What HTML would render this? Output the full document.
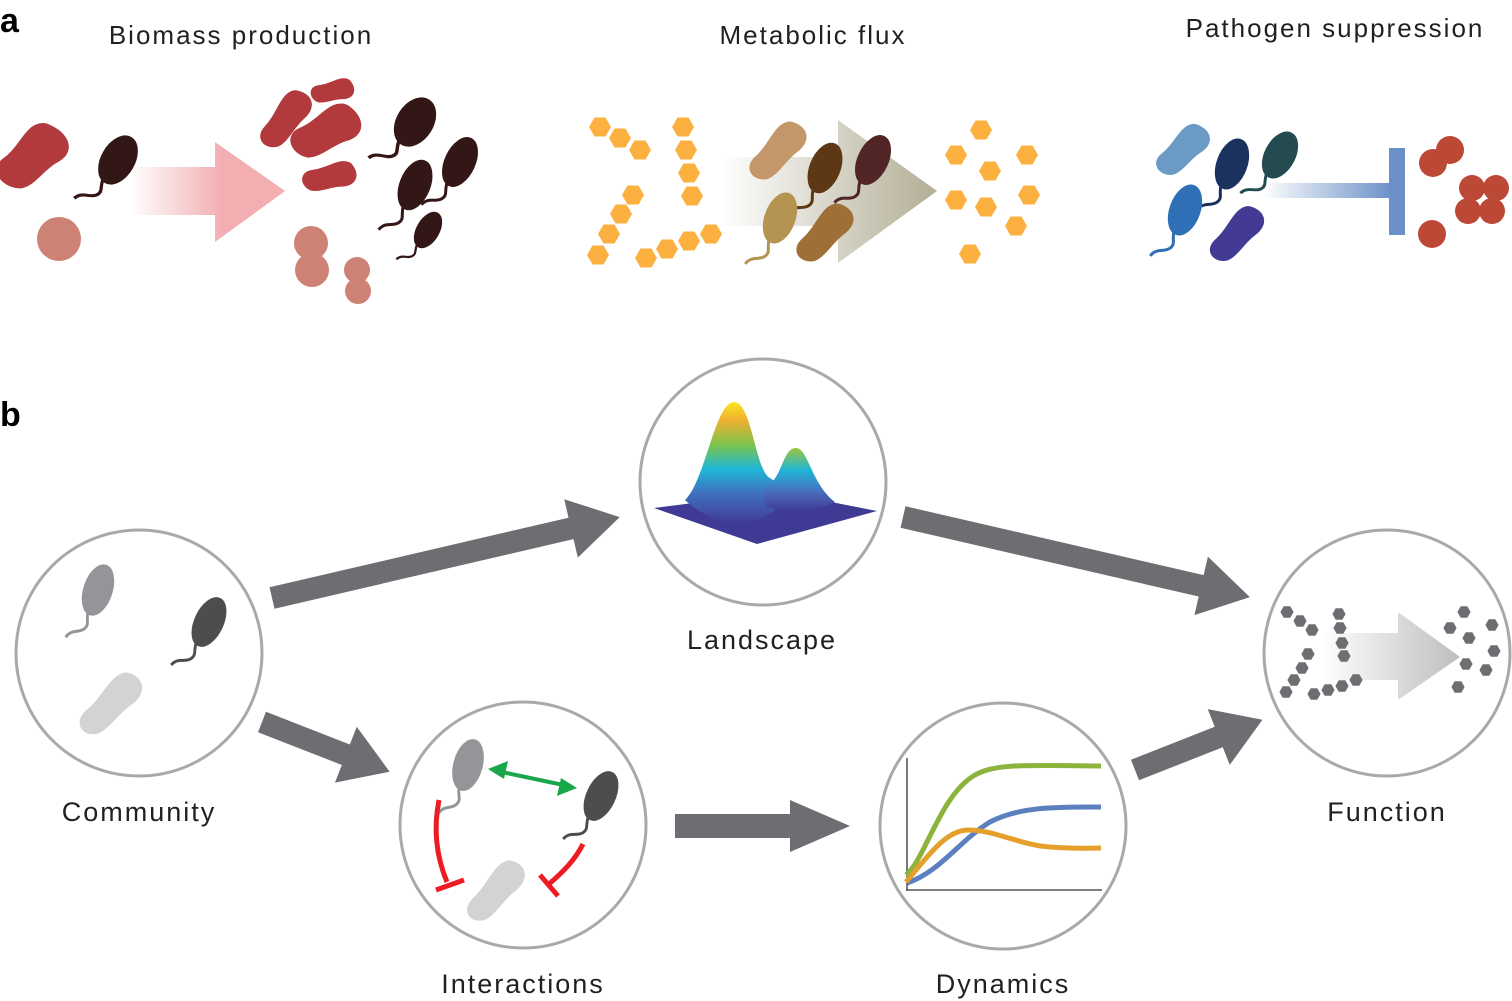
<!DOCTYPE html>
<html><head><meta charset="utf-8"><style>
html,body{margin:0;padding:0;background:#fff;}
svg{display:block;font-family:"Liberation Sans",sans-serif;}
</style></head><body>
<svg width="1512" height="1001" viewBox="0 0 1512 1001" xmlns="http://www.w3.org/2000/svg">
<defs>
<linearGradient id="gPink" x1="0" x2="1" y1="0" y2="0"><stop offset="0" stop-color="#f2aeb1" stop-opacity="0"/><stop offset="0.6" stop-color="#f2aeb1"/><stop offset="1" stop-color="#f2aeb1"/></linearGradient>
<linearGradient id="gFlux" gradientUnits="userSpaceOnUse" x1="720" x2="937" y1="0" y2="0"><stop offset="0" stop-color="#b3ae96" stop-opacity="0"/><stop offset="1" stop-color="#b3ae96"/></linearGradient>
<linearGradient id="gBlue" x1="0" x2="1"><stop offset="0" stop-color="#6b90c8" stop-opacity="0"/><stop offset="1" stop-color="#6b90c8"/></linearGradient>
<linearGradient id="gGray" gradientUnits="userSpaceOnUse" x1="1322" x2="1460" y1="0" y2="0"><stop offset="0" stop-color="#bcbec0" stop-opacity="0"/><stop offset="1" stop-color="#bcbec0"/></linearGradient>
<linearGradient id="gPeak" x1="0" x2="0" y1="0" y2="1"><stop offset="0" stop-color="#f8e620"/><stop offset="0.15" stop-color="#f0b030"/><stop offset="0.35" stop-color="#7cc44a"/><stop offset="0.55" stop-color="#1fb6d6"/><stop offset="0.75" stop-color="#4070c0"/><stop offset="1" stop-color="#3f3a93"/></linearGradient>
<linearGradient id="gPeak2" x1="0" x2="0" y1="0" y2="1"><stop offset="0" stop-color="#9cc63c"/><stop offset="0.35" stop-color="#1fb6d6"/><stop offset="0.7" stop-color="#4a6cbc"/><stop offset="1" stop-color="#3f3a93"/></linearGradient>
<g id="fc"><ellipse cx="0" cy="0" rx="15" ry="26"/><path d="M-3,24 C-2,33 3,35 -1,41 C-5,47 -14,45 -17,55" stroke-width="3" fill="none"/></g>
<path id="rod" d="M-6,-34 C10,-40 20,-28 14,-10 C10,4 12,20 6,30 C-4,42 -20,36 -16,18 C-13,4 -16,-10 -14,-22 C-12,-30 -9,-33 -6,-34 Z"/>
<polygon id="hex" points="11,0 5.5,9.5 -5.5,9.5 -11,0 -5.5,-9.5 5.5,-9.5"/>
</defs>

<text x="0" y="32" font-size="34" font-weight="bold">a</text>
<g font-size="26" text-anchor="middle" fill="#231f20" letter-spacing="2">
<text x="241" y="44">Biomass production</text>
<text x="813" y="44">Metabolic flux</text>
<text x="1335" y="37">Pathogen suppression</text>
</g>

<!-- Biomass -->
<path d="M130,167 H215 V142 L285,191 L215,242 V215 H130 Z" fill="url(#gPink)"/>
<g fill="#b23a3c">
<use href="#rod" transform="translate(34,158) rotate(38) scale(1.5,1.05)"/>
<use href="#rod" transform="translate(287,120) rotate(30) scale(1.0,0.9)"/>
<use href="#rod" transform="translate(333,92) rotate(70) scale(0.7,0.6)"/>
<use href="#rod" transform="translate(327,133) rotate(52) scale(1.3,1.0)"/>
<use href="#rod" transform="translate(330,178) rotate(70) scale(0.85,0.75)"/>
</g>
<g fill="#331616" stroke="#331616">
<use href="#fc" transform="translate(118,160) rotate(30) scale(1.1,1)"/>
<use href="#fc" transform="translate(415,122) rotate(32) scale(1.2,1)"/>
<use href="#fc" transform="translate(460,162) rotate(25) scale(1,1)"/>
<use href="#fc" transform="translate(415,185) rotate(22) scale(1,1)"/>
<use href="#fc" transform="translate(428,230) rotate(30) scale(0.75,0.75)"/>
</g>
<g fill="#cd8275">
<circle cx="59" cy="239" r="22"/>
<circle cx="311" cy="243" r="17"/><circle cx="312" cy="270" r="17"/>
<circle cx="357" cy="270" r="13"/><circle cx="358" cy="291" r="13"/>
</g>

<!-- Metabolic flux -->
<path d="M720,157 H838 V120 L937,191 L838,263 V226 H720 Z" fill="url(#gFlux)"/>
<g fill="#fbb040">
<use href="#hex" x="600" y="127"/><use href="#hex" x="620" y="138"/><use href="#hex" x="640" y="150"/>
<use href="#hex" x="683" y="127"/><use href="#hex" x="686" y="150"/><use href="#hex" x="689" y="173"/><use href="#hex" x="692" y="196"/>
<use href="#hex" x="633" y="195"/><use href="#hex" x="621" y="214"/><use href="#hex" x="609" y="234"/><use href="#hex" x="598" y="255"/>
<use href="#hex" x="646" y="258"/><use href="#hex" x="667" y="249"/><use href="#hex" x="689" y="241"/><use href="#hex" x="711" y="234"/>
<use href="#hex" x="981" y="130"/><use href="#hex" x="956" y="155"/><use href="#hex" x="1027" y="155"/><use href="#hex" x="990" y="171"/><use href="#hex" x="1029" y="195"/><use href="#hex" x="956" y="200"/><use href="#hex" x="986" y="207"/><use href="#hex" x="1016" y="226"/><use href="#hex" x="970" y="254"/>
</g>
<use href="#rod" fill="#c4976b" transform="translate(779,152) rotate(35) scale(1.05,0.95)"/>
<use href="#rod" fill="#9e7037" transform="translate(826,234) rotate(35) scale(1.05,0.95)"/>
<g fill="#5e3815" stroke="#5e3815"><use href="#fc" transform="translate(825,168) rotate(22) scale(1,1)"/></g>
<g fill="#512425" stroke="#512425"><use href="#fc" transform="translate(873,160) rotate(25) scale(1,1)"/></g>
<g fill="#b59350" stroke="#b59350"><use href="#fc" transform="translate(780,218) rotate(20) scale(1,1)"/></g>

<!-- Pathogen -->
<rect x="1262" y="183" width="130" height="15" fill="url(#gBlue)"/>
<rect x="1389" y="148" width="16" height="87" fill="#6b90c8"/>
<use href="#rod" fill="#6b9ac4" transform="translate(1184,151) rotate(38) scale(1.0,0.85)"/>
<use href="#rod" fill="#433a93" transform="translate(1238,235) rotate(35) scale(1.0,0.9)"/>
<g fill="#1c325e" stroke="#1c325e"><use href="#fc" transform="translate(1232,164) rotate(20) scale(1,1)"/></g>
<g fill="#244b50" stroke="#244b50"><use href="#fc" transform="translate(1280,155) rotate(28) scale(1,0.95)"/></g>
<g fill="#2e6fb5" stroke="#2e6fb5"><use href="#fc" transform="translate(1185,210) rotate(20) scale(1,1)"/></g>
<g fill="#bc4836">
<circle cx="1433" cy="163" r="14"/><circle cx="1450" cy="150" r="14"/>
<circle cx="1472" cy="188" r="13"/><circle cx="1496" cy="188" r="13"/><circle cx="1468" cy="211" r="13"/><circle cx="1492" cy="211" r="13"/>
<circle cx="1432" cy="234" r="14"/>
</g>

<!-- panel b -->
<text x="0" y="426" font-size="34" font-weight="bold">b</text>
<g fill="none" stroke="#a7a9ac" stroke-width="3">
<circle cx="139" cy="653" r="123"/>
<circle cx="763" cy="482" r="123"/>
<circle cx="523" cy="825" r="123"/>
<circle cx="1003" cy="826" r="123"/>
<circle cx="1387" cy="653" r="123"/>
</g>
<g font-size="27" text-anchor="middle" fill="#231f20" letter-spacing="2">
<text x="762" y="649">Landscape</text>
<text x="139" y="821">Community</text>
<text x="523" y="993">Interactions</text>
<text x="1003" y="993">Dynamics</text>
<text x="1387" y="821">Function</text>
</g>

<g fill="#6d6e71">
<path transform="translate(272,598) rotate(-13.1)" d="M0,-11 H307 V-30 L357,0 L307,30 V11 H0 Z"/>
<path transform="translate(903,517) rotate(13)" d="M0,-11 H306 V-30 L356,0 L306,30 V11 H0 Z"/>
<path transform="translate(262,722) rotate(21.3)" d="M0,-11 H90 V-30 L137,0 L90,30 V11 H0 Z"/>
<path d="M675,814 H790 V800 L850,826 L790,852 V838 H675 Z"/>
<path transform="translate(1135,770) rotate(-21.5)" d="M0,-11 H90 V-30 L137,0 L90,30 V11 H0 Z"/>
</g>

<!-- community -->
<g fill="#939598" stroke="#939598"><use href="#fc" transform="translate(98,590) rotate(18) scale(0.95,1)"/></g>
<g fill="#4d4d4f" stroke="#4d4d4f"><use href="#fc" transform="translate(209,622) rotate(25) scale(0.95,1)"/></g>
<use href="#rod" fill="#d1d3d4" transform="translate(112,705) rotate(38) scale(1.05,1.05)"/>

<!-- landscape -->
<path d="M654,508 L780,492 L877,511 L757,544 Z" fill="#3f3a93"/>
<path d="M685,500 C705,482 715,402 734,402 C752,402 755,470 770,478 L790,492 C780,512 760,522 740,524 C715,522 698,512 685,500 Z" fill="url(#gPeak)"/>
<path d="M768,486 C783,475 783,448 796,448 C808,448 812,485 835,502 C818,512 790,514 768,507 C762,500 762,490 768,486 Z" fill="url(#gPeak2)"/>

<!-- interactions -->
<g fill="#939598" stroke="#939598"><use href="#fc" transform="translate(468,765) rotate(15) scale(0.95,1)"/></g>
<g fill="#4d4d4f" stroke="#4d4d4f"><use href="#fc" transform="translate(601,796) rotate(25) scale(0.95,1)"/></g>
<use href="#rod" fill="#d1d3d4" transform="translate(497,892) rotate(35) scale(1.0,1)"/>
<g stroke="#1aa64a" fill="#1aa64a">
<line x1="497" y1="771" x2="568" y2="786" stroke-width="4"/>
<polygon points="488,769 508,761 504,779" stroke="none"/>
<polygon points="577,788 557,796 561,778" stroke="none"/>
</g>
<g stroke="#ed1c24" stroke-width="5" fill="none">
<path d="M439,800 C433,830 437,858 447,882"/>
<line x1="436" y1="890" x2="464" y2="880"/>
<path d="M583,844 C575,860 563,872 549,884"/>
<line x1="540" y1="875" x2="558" y2="896"/>
</g>

<!-- dynamics -->
<g stroke="#333" stroke-width="1.3"><line x1="907" y1="758" x2="907" y2="891"/><line x1="907" y1="890" x2="1102" y2="890"/></g>
<g fill="none" stroke-width="5">
<path d="M906,875 C925,860 940,795 975,775 C995,764 1020,765 1101,766" stroke="#8cb43c"/>
<path d="M907,883 C940,872 960,840 990,822 C1020,806 1060,807 1101,807" stroke="#5b7fbf"/>
<path d="M906,882 C925,860 945,830 968,830 C995,830 1020,845 1050,847 C1075,849 1090,848 1101,848" stroke="#e5a02b"/>
</g>

<!-- function -->
<path d="M1322,633 H1398 V612 L1460,657 L1398,700 V680 H1322 Z" fill="url(#gGray)"/>
<g fill="#6d6e71">
<g transform="translate(1287,612) scale(0.6)"><use href="#hex"/></g>
<g transform="translate(1300,621) scale(0.6)"><use href="#hex"/></g>
<g transform="translate(1312,630) scale(0.6)"><use href="#hex"/></g>
<g transform="translate(1339,614) scale(0.6)"><use href="#hex"/></g>
<g transform="translate(1340,628) scale(0.6)"><use href="#hex"/></g>
<g transform="translate(1342,643) scale(0.6)"><use href="#hex"/></g>
<g transform="translate(1344,656) scale(0.6)"><use href="#hex"/></g>
<g transform="translate(1308,654) scale(0.6)"><use href="#hex"/></g>
<g transform="translate(1302,668) scale(0.6)"><use href="#hex"/></g>
<g transform="translate(1294,680) scale(0.6)"><use href="#hex"/></g>
<g transform="translate(1286,692) scale(0.6)"><use href="#hex"/></g>
<g transform="translate(1314,694) scale(0.6)"><use href="#hex"/></g>
<g transform="translate(1328,690) scale(0.6)"><use href="#hex"/></g>
<g transform="translate(1342,686) scale(0.6)"><use href="#hex"/></g>
<g transform="translate(1356,680) scale(0.6)"><use href="#hex"/></g>
<g transform="translate(1464,612) scale(0.6)"><use href="#hex"/></g>
<g transform="translate(1450,628) scale(0.6)"><use href="#hex"/></g>
<g transform="translate(1492,625) scale(0.6)"><use href="#hex"/></g>
<g transform="translate(1469,638) scale(0.6)"><use href="#hex"/></g>
<g transform="translate(1494,651) scale(0.6)"><use href="#hex"/></g>
<g transform="translate(1466,664) scale(0.6)"><use href="#hex"/></g>
<g transform="translate(1486,670) scale(0.6)"><use href="#hex"/></g>
<g transform="translate(1458,687) scale(0.6)"><use href="#hex"/></g>
</g>
</svg>
</body></html>
